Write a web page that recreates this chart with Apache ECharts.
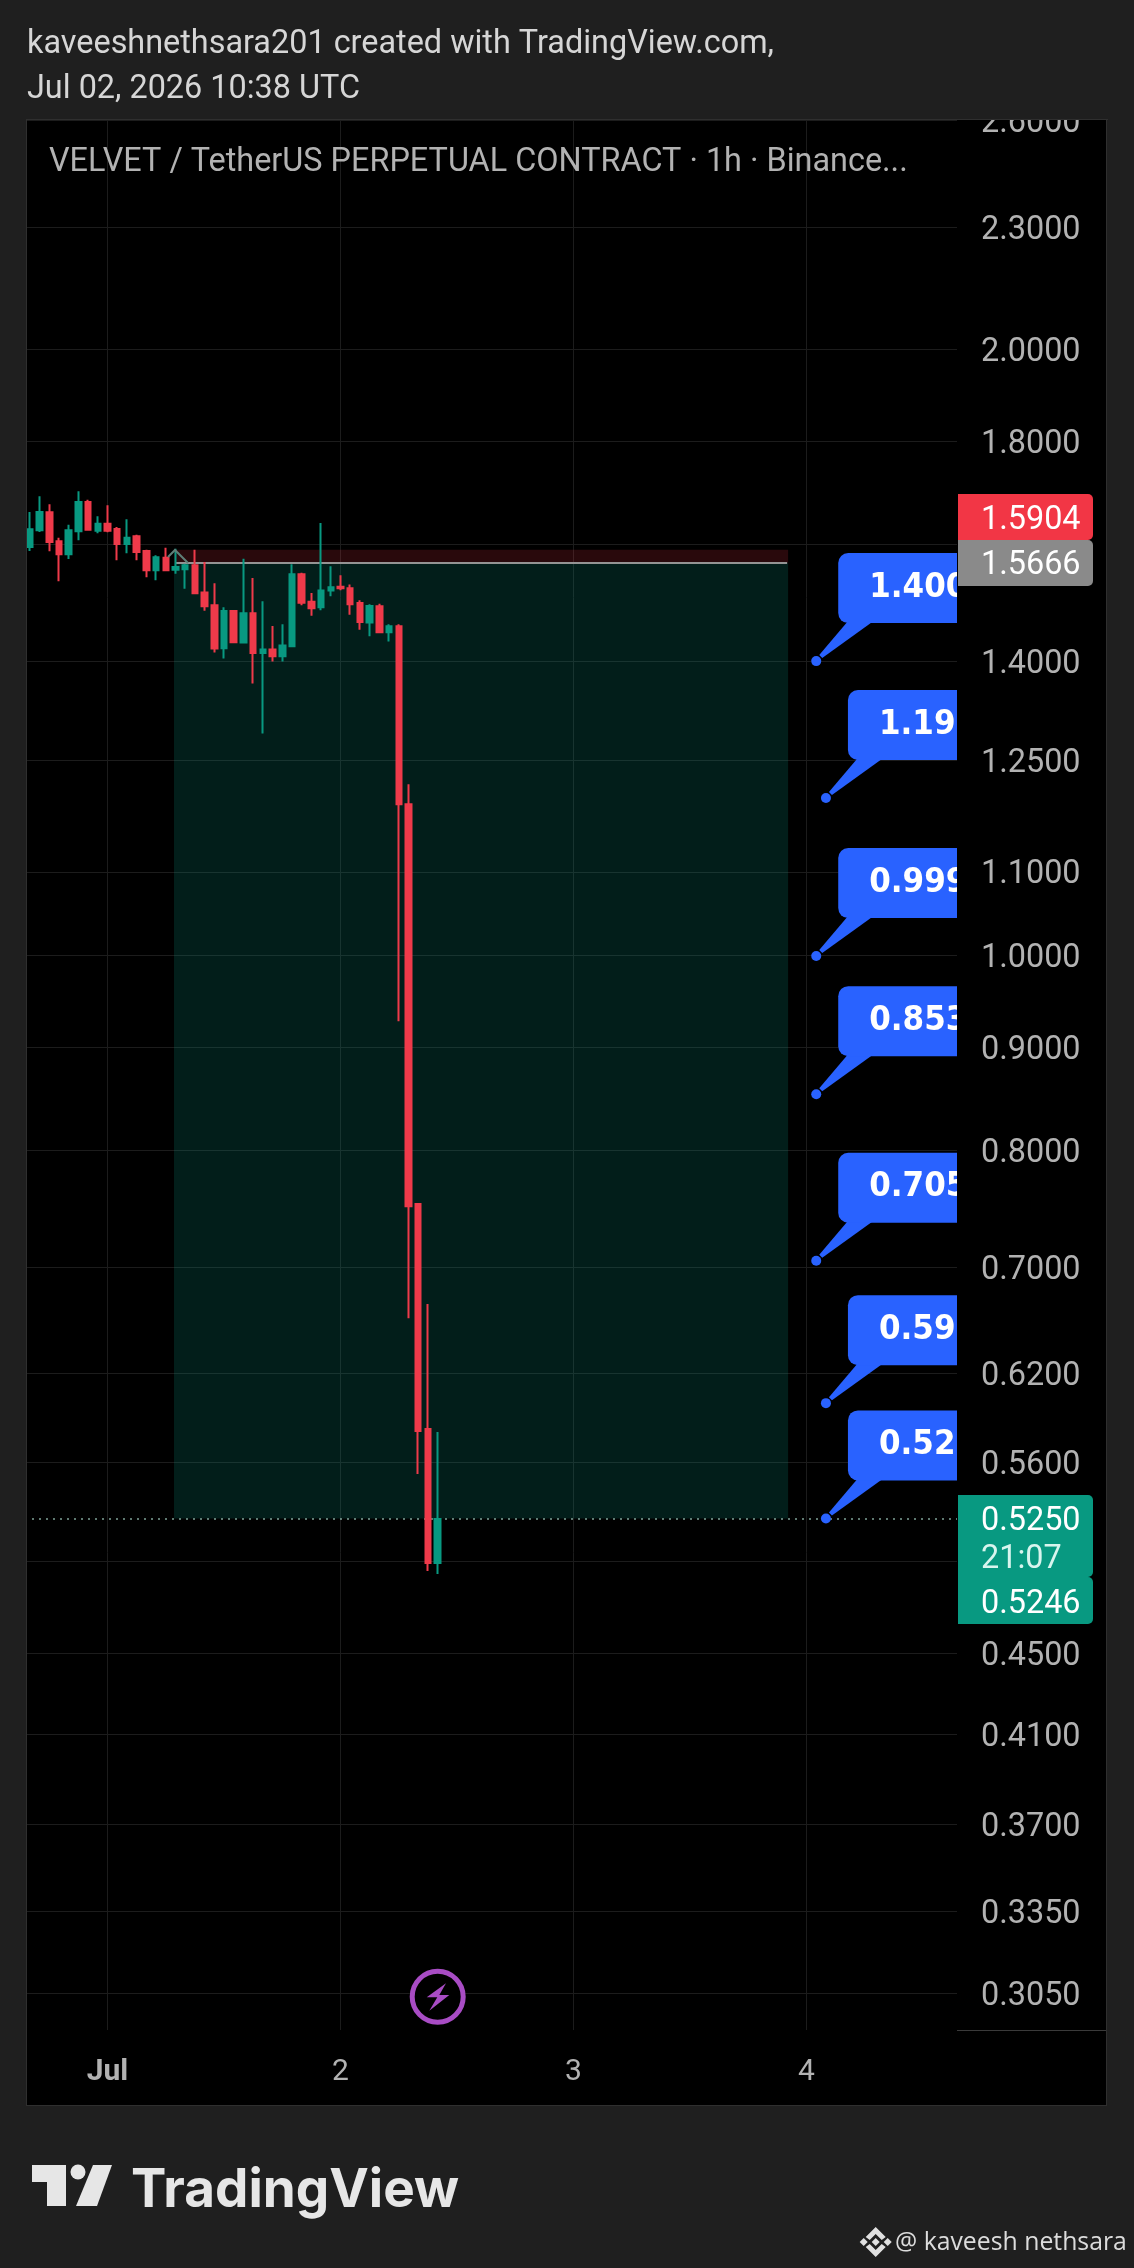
<!DOCTYPE html>
<html>
<head>
<meta charset="utf-8">
<style>html,body{margin:0;padding:0;background:#1f1f1f}#c{width:1134px;height:2268px}</style>
<script src="https://cdn.jsdelivr.net/npm/echarts@6/dist/echarts.min.js"></script>
</head>
<body>
<div id="c"></div>
<script>
// ---- data ----
const opens  = [1.5952,1.6260,1.6598,1.6056,1.5820,1.6241,1.6795,1.6253,1.6384,1.6284,1.6007,1.6148,1.5880,1.5532,1.5759,1.5544,1.5550,1.5621,1.5141,1.4923,1.4207,1.4826,1.4300,1.4787,1.4132,1.4186,1.4078,1.4240,1.5462,1.4985,1.4889,1.5176,1.5245,1.5216,1.4962,1.4630,1.4906,1.4469,1.4569,1.1885,0.7522,0.5815,0.4989];
const closes = [1.6278,1.6604,1.6044,1.5820,1.6260,1.6795,1.6272,1.6384,1.6253,1.6007,1.6124,1.5862,1.5532,1.5765,1.5532,1.5592,1.5621,1.5129,1.4906,1.4202,1.4826,1.4305,1.4787,1.4132,1.4186,1.4078,1.4251,1.5462,1.4968,1.4872,1.5176,1.5234,1.5216,1.4940,1.4641,1.4911,1.4469,1.4569,1.1885,0.7504,0.5802,0.4989,0.5246];
const lows   = [1.5880,1.6229,1.5874,1.5339,1.5735,1.6075,1.6260,1.6204,1.6222,1.5711,1.5838,1.5711,1.5409,1.5356,1.5521,1.5473,1.5210,1.5129,1.4832,1.4137,1.4040,1.4294,1.4283,1.3644,1.2886,1.3992,1.3992,1.4229,1.4923,1.4747,1.4838,1.5077,1.5181,1.4764,1.4513,1.4403,1.4458,1.4316,0.9273,0.6602,0.5523,0.4943,0.4926];
const highs  = [1.6604,1.6904,1.6750,1.6124,1.6365,1.7001,1.6840,1.6522,1.6731,1.6322,1.6465,1.6179,1.5904,1.5801,1.5940,1.5922,1.5651,1.5904,1.5681,1.5304,1.4889,1.4838,1.5741,1.5397,1.4991,1.4574,1.4602,1.5639,1.5491,1.5135,1.6396,1.5603,1.5444,1.5280,1.5008,1.4940,1.4951,1.4602,1.4602,1.2160,0.7522,0.6709,0.5795];

// Hourly slots, index 0 = Jun 30 16:00, 96 slots in view
const hourSlots = [];
for (let h = 0; h < 96; h++) {
  const day = 30 + Math.floor((16 + h) / 24);
  const d = day <= 30 ? 'Jun 30' : 'Jul ' + (day - 30);
  hourSlots.push(d + ' ' + String((16 + h) % 24).padStart(2, '0') + ':00');
}
const dayTicks = {'Jul 1 00:00':'Jul','Jul 2 00:00':'2','Jul 3 00:00':'3','Jul 4 00:00':'4'};

const priceTicks = [0.305,0.335,0.37,0.41,0.45,0.5,0.56,0.62,0.7,0.8,0.9,1,1.1,1.25,1.4,1.6,1.8,2,2.3,2.6];

const stopPrice = 1.5904, entryPrice = 1.5666, targetPrice = 0.5250, lastPrice = 0.5246;
const boxStart = 15, boxEnd = 78;
const boxTops    = [stopPrice, entryPrice];
const boxBottoms = [entryPrice, targetPrice];

const calloutSlots  = [81,82,81,81,81,82,82];
const calloutPrices = [1.400,1.197,0.999,0.853,0.705,0.599,0.525];
const calloutTexts  = ['1.400','1.197','0.999','0.853','0.705','0.599','0.525'];

const GREEN = '#089981', RED = '#f23645', CANDLE_RED = '#ef3a4a', BLUE = '#2962ff';
const BG = '#1f1f1f', AXT = '#b2b2b2', FONT = 'Roboto';
const BOX_COLORS = ['rgba(242,54,69,0.17)','rgba(10,150,130,0.2)'];

function txt(text, x, y, size, fill, extra) {
  return {type:'text', z:120, silent:true, style:Object.assign({text, x, y, fill,
    font: size + 'px ' + FONT, align:'left', verticalAlign:'middle'}, extra||{})};
}
function poly(points, fill, z) {
  return {type:'polygon', z:z||120, silent:true, shape:{points}, style:{fill}};
}
function rect(x, y, width, height, fill, z, r) {
  return {type:'rect', z:z, silent:true, shape:{x,y,width,height,r:r||0}, style:{fill}};
}
function diamond(cx, cy, h, fill) {
  return poly([[cx,cy-h],[cx+h,cy],[cx,cy+h],[cx-h,cy]], fill);
}

const bcx = 875.7, bcy = 2242, wm = '#e0e0e0';
const graphics = [
  rect(27,120,1080,1985,'#000000',-10),
  // covers outside the frame
  rect(0,0,1134,119,BG,100),
  rect(0,0,26,2268,BG,100),
  rect(1107,0,27,2268,BG,100),
  rect(26,119,1082,1,'#2f2f2f',101),
  rect(26,119,1,1987,'#2f2f2f',101),
  rect(1106,119,1,1987,'#2f2f2f',101),
  rect(26,2105,1081,1,'#2f2f2f',101),
  rect(957,2030,149,1,'#3a3a3a',101),
  // header
  txt('kaveeshnethsara201 created with TradingView.com,',27,45,32.4,'#d6d6d6'),
  txt('Jul 02, 2026 10:38 UTC',27,90,32.4,'#d6d6d6'),
  txt('VELVET / TetherUS PERPETUAL CONTRACT · 1h · Binance...',49,163,32.4,AXT),
  // price tags
  rect(958,494,135,46,RED,110,[0,5,5,0]),
  rect(958,540,135,46,'#8a8a8a',110,[0,5,5,0]),
  rect(958,1495,135,82,GREEN,110,[0,5,5,0]),
  rect(958,1577,135,47,GREEN,110,[0,5,5,0]),
  txt(stopPrice.toFixed(4),981,521,32.4,'#ffffff'),
  txt(entryPrice.toFixed(4),981,566,32.4,'#ffffff'),
  txt(targetPrice.toFixed(4),981,1522,32.4,'#ffffff'),
  txt('21:07',981,1560,32.4,'#d8f5ee'),
  txt(lastPrice.toFixed(4),981,1605,32.4,'#ffffff'),
  // entry chevron
  {type:'polyline', z:60, silent:true, shape:{points:[[168,557],[175,550],[182,557],[188,563]]},
   style:{stroke:'#5f7f78', lineWidth:2, fill:null}},
  // purple marker
  {type:'circle', z:90, silent:true, shape:{cx:437.7,cy:1996.7,r:25.5}, style:{fill:'#000000',stroke:'#a84cc4',lineWidth:5}},
  poly([[446,1983.3],[426.7,1997.3],[437.3,1997.3],[429.3,2010.7],[449.3,1995],[439.3,1995]],'#a84cc4',91),
  // TradingView logo
  poly([[32,2165],[66,2165],[66,2206],[47,2206],[47,2182],[32,2182]],'#e6e6e6'),
  {type:'circle', z:120, silent:true, shape:{cx:78,cy:2172,r:7.5}, style:{fill:'#e6e6e6'}},
  poly([[93,2165],[112,2165],[97,2206],[76,2206]],'#e6e6e6'),
  txt('TradingView',131,2191,53,'#e6e6e6',{font:'700 53px Inter'}),
  // watermark
  diamond(bcx,bcy,4,wm), diamond(bcx-12,bcy,4,wm), diamond(bcx+12,bcy,4,wm),
  poly([[bcx,bcy-15],[bcx+10,bcy-5],[bcx+6,bcy-2],[bcx,bcy-8],[bcx-6,bcy-2],[bcx-10,bcy-5]],wm),
  poly([[bcx,bcy+15],[bcx+10,bcy+5],[bcx+6,bcy+2],[bcx,bcy+8],[bcx-6,bcy+2],[bcx-10,bcy+5]],wm),
  txt('@ kaveesh nethsara',895,2243,24.8,'#dcdcdc',{font:'24.8px "Open Sans"'})
];

const chart = echarts.init(document.getElementById('c'), null, {renderer:'canvas', width:1134, height:2268});
const option = {
  animation:false,
  backgroundColor:BG,
  grid:{left:25, width:932, top:120, height:1910, containLabel:false},
  xAxis:{
    type:'category', data:hourSlots, boundaryGap:true,
    axisLine:{show:false},
    axisTick:{show:false, alignWithLabel:true},
    axisLabel:{
      interval:(i,v)=>v in dayTicks, color:AXT, fontFamily:FONT, fontSize:30, margin:27,
      formatter:v=> v==='Jul 1 00:00' ? '{b|Jul}' : (dayTicks[v]||''),
      rich:{b:{fontWeight:'bold',fontSize:30,color:AXT,fontFamily:FONT}}
    },
    splitLine:{show:true, alignWithLabel:true, interval:(i,v)=>v in dayTicks, lineStyle:{color:'#1c1c1c',width:1}}
  },
  yAxis:{
    type:'log', logBase:10, min:0.2924, max:2.6, position:'right',
    axisLine:{show:false},
    axisTick:{show:false, customValues:priceTicks},
    axisLabel:{
      customValues:priceTicks, inside:false, margin:24, color:AXT, fontFamily:FONT, fontSize:32.4,
      showMinLabel:true, showMaxLabel:true, hideOverlap:false,
      formatter:v=> '{p|' + v.toFixed(4) + '}',
      rich:{p:{fontSize:32.4,color:AXT,fontFamily:FONT,padding:[7,0,0,0]}}
    },
    splitLine:{show:true, lineStyle:{color:'#1c1c1c',width:1}}
  },
  series:[
    {
      type:'custom', z:1, silent:true, clip:true,
      data:boxTops.map((t,i)=>[boxStart,t,boxEnd,boxBottoms[i]]),
      encode:{x:[0,2],y:[1,3]},
      renderItem:(params,api)=>{
        const a = api.coord([api.value(0),api.value(1)]);
        const b = api.coord([api.value(2),api.value(3)]);
        return {type:'rect', shape:{x:a[0]-1.5,y:a[1],width:b[0]-a[0]+2.5,height:b[1]-a[1]},
          style:{fill:BOX_COLORS[params.dataIndex]}};
      }
    },
    {
      type:'candlestick', z:5, barWidth:6, silent:true,
      data:opens.map((o,i)=>[o,closes[i],lows[i],highs[i]]),
      itemStyle:{color:GREEN,color0:CANDLE_RED,borderColor:GREEN,borderColor0:CANDLE_RED,borderWidth:2}
    },
    {
      type:'line', data:[], z:6, silent:true,
      markLine:{silent:true, symbol:'none', animation:false, precision:4, label:{show:false}, data:[
        [{xAxis:hourSlots[boxStart], yAxis:entryPrice, lineStyle:{color:'#949494',width:2,type:'solid'}},{xAxis:hourSlots[boxEnd], yAxis:entryPrice}],
        {yAxis:targetPrice, lineStyle:{color:'rgba(170,215,200,0.75)',width:1.5,type:[2,5]}}
      ]}
    },
    {
      type:'custom', z:8, silent:true, clip:true,
      data:calloutSlots.map((s,i)=>[s,calloutPrices[i]]),
      encode:{x:0,y:1},
      renderItem:(params,api)=>{
        const p = api.coord([api.value(0),api.value(1)]);
        const x = p[0], y = p[1], b = y-38;
        return {type:'group', children:[
          {type:'polygon', shape:{points:[[x+31,b-1],[x+56,b-1],[x+6,y-3],[x+3,y-6]]}, style:{fill:BLUE}},
          {type:'rect', shape:{x:x+22,y:y-108,width:180,height:70,r:10}, style:{fill:BLUE}},
          {type:'text', x:x+53, y:y-73, scaleX:0.94, style:{text:calloutTexts[params.dataIndex], fill:'#fff',
            font:'bold 33px "DejaVu Sans"', align:'left', verticalAlign:'middle'}},
          {type:'circle', shape:{cx:x,cy:y,r:5}, style:{fill:BLUE}}
        ]};
      }
    }
  ],
  graphic:{elements:graphics}
};
chart.setOption(option);
</script>
</body>
</html>
